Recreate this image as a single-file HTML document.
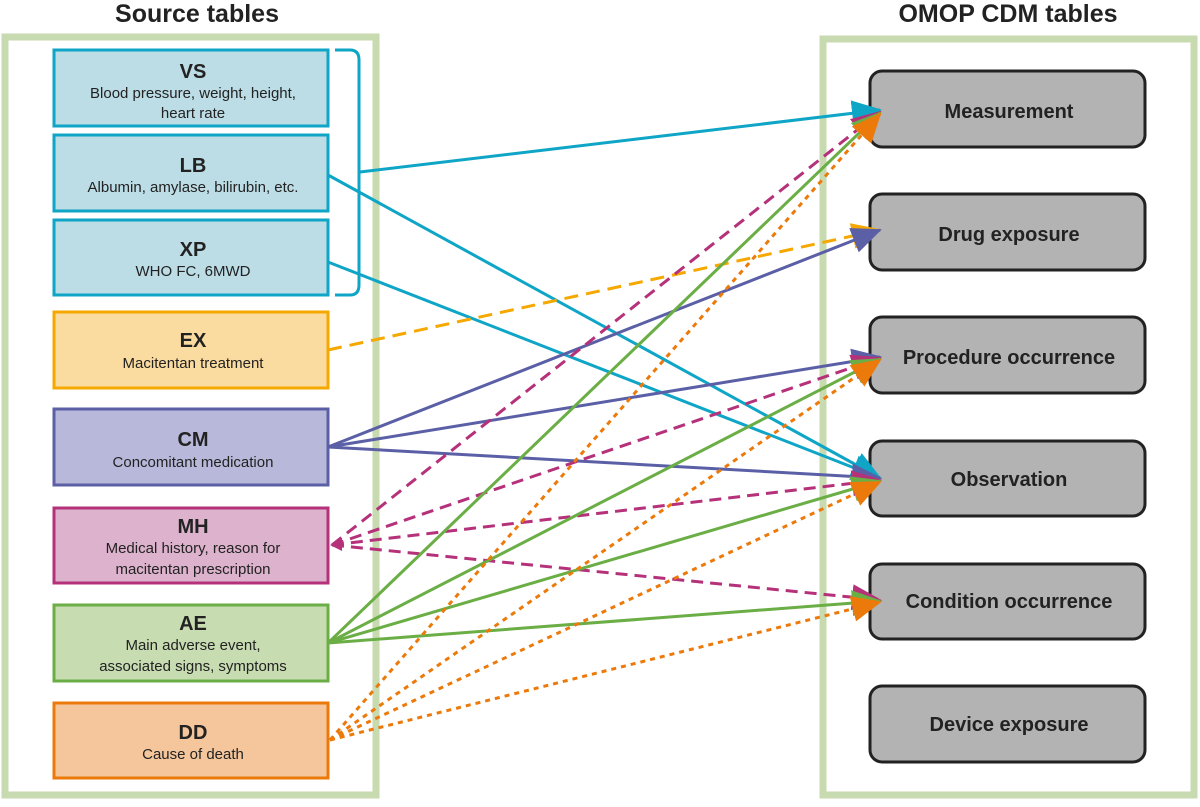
<!DOCTYPE html>
<html><head><style>
body{margin:0;background:#fff;}
svg text{font-family:"Liberation Sans",sans-serif;fill:#222;}
</style></head><body>
<svg width="1200" height="802" viewBox="0 0 1200 802" xmlns="http://www.w3.org/2000/svg">
<defs>
<marker id="mc" markerUnits="userSpaceOnUse" markerWidth="30" markerHeight="26" refX="28" refY="13" orient="auto"><path d="M0,0 L30,13 L0,26 z" fill="#0ea5c6"/></marker>
<marker id="my" markerUnits="userSpaceOnUse" markerWidth="30" markerHeight="26" refX="28" refY="13" orient="auto"><path d="M0,0 L30,13 L0,26 z" fill="#f5a800"/></marker>
<marker id="mp" markerUnits="userSpaceOnUse" markerWidth="30" markerHeight="26" refX="28" refY="13" orient="auto"><path d="M0,0 L30,13 L0,26 z" fill="#5b5fa6"/></marker>
<marker id="mm" markerUnits="userSpaceOnUse" markerWidth="30" markerHeight="26" refX="28" refY="13" orient="auto"><path d="M0,0 L30,13 L0,26 z" fill="#b5317a"/></marker>
<marker id="mg" markerUnits="userSpaceOnUse" markerWidth="30" markerHeight="26" refX="28" refY="13" orient="auto"><path d="M0,0 L30,13 L0,26 z" fill="#6aae45"/></marker>
<marker id="mo" markerUnits="userSpaceOnUse" markerWidth="30" markerHeight="26" refX="28" refY="13" orient="auto"><path d="M0,0 L30,13 L0,26 z" fill="#ec7a0b"/></marker>
</defs>
<text x="197" y="22" font-size="25" font-weight="bold" text-anchor="middle">Source tables</text>
<text x="1008" y="22" font-size="25" font-weight="bold" text-anchor="middle">OMOP CDM tables</text>
<rect x="5" y="37" width="371" height="758" fill="none" stroke="#c8dab0" stroke-width="7"/>
<rect x="823" y="39" width="371" height="756" fill="none" stroke="#c8dab0" stroke-width="7"/>

<g stroke-width="3">
<rect x="54" y="50" width="274" height="76" fill="#bcdce6" stroke="#0ea5c6"/>
<rect x="54" y="135" width="274" height="76" fill="#bcdce6" stroke="#0ea5c6"/>
<rect x="54" y="220" width="274" height="75" fill="#bcdce6" stroke="#0ea5c6"/>
<rect x="54" y="312" width="274" height="76" fill="#fadba0" stroke="#f5a800"/>
<rect x="54" y="409" width="274" height="76" fill="#b8b9da" stroke="#5b5fa6"/>
<rect x="54" y="508" width="274" height="75" fill="#ddb2cd" stroke="#b5317a"/>
<rect x="54" y="605" width="274" height="76" fill="#c8dcb2" stroke="#6aae45"/>
<rect x="54" y="703" width="274" height="75" fill="#f5c69c" stroke="#ec7a0b"/>
</g>
<path d="M335,50 H350 Q359,50 359,60 V285 Q359,295 350,295 H335" fill="none" stroke="#0ea5c6" stroke-width="3"/>

<g text-anchor="middle" font-size="15">
<text x="193" y="78" font-size="20" font-weight="bold">VS</text>
<text x="193" y="98">Blood pressure, weight, height,</text>
<text x="193" y="118">heart rate</text>
<text x="193" y="172" font-size="20" font-weight="bold">LB</text>
<text x="193" y="192">Albumin, amylase, bilirubin, etc.</text>
<text x="193" y="256" font-size="20" font-weight="bold">XP</text>
<text x="193" y="276">WHO FC, 6MWD</text>
<text x="193" y="347" font-size="20" font-weight="bold">EX</text>
<text x="193" y="368">Macitentan treatment</text>
<text x="193" y="446" font-size="20" font-weight="bold">CM</text>
<text x="193" y="467">Concomitant medication</text>
<text x="193" y="533" font-size="20" font-weight="bold">MH</text>
<text x="193" y="553">Medical history, reason for</text>
<text x="193" y="574">macitentan prescription</text>
<text x="193" y="630" font-size="20" font-weight="bold">AE</text>
<text x="193" y="650">Main adverse event,</text>
<text x="193" y="671">associated signs, symptoms</text>
<text x="193" y="739" font-size="20" font-weight="bold">DD</text>
<text x="193" y="759">Cause of death</text>
</g>

<g fill="#b3b3b3" stroke="#222" stroke-width="3">
<rect x="870" y="71" width="275" height="76" rx="12"/>
<rect x="870" y="194" width="275" height="76" rx="12"/>
<rect x="870" y="317" width="275" height="76" rx="12"/>
<rect x="870" y="441" width="275" height="75" rx="12"/>
<rect x="870" y="564" width="275" height="75" rx="12"/>
<rect x="870" y="686" width="275" height="76" rx="12"/>
</g>
<g text-anchor="middle" font-size="20" font-weight="bold">
<text x="1009" y="118">Measurement</text>
<text x="1009" y="241">Drug exposure</text>
<text x="1009" y="364">Procedure occurrence</text>
<text x="1009" y="486">Observation</text>
<text x="1009" y="608">Condition occurrence</text>
<text x="1009" y="731">Device exposure</text>
</g>

<g fill="none" stroke-width="3">
<line x1="360" y1="172" x2="880" y2="110" stroke="#0ea5c6" marker-end="url(#mc)"/>
<line x1="328" y1="175" x2="880" y2="478" stroke="#0ea5c6" marker-end="url(#mc)"/>
<line x1="328" y1="262" x2="880" y2="478" stroke="#0ea5c6" marker-end="url(#mc)"/>
<line x1="328" y1="350" x2="880" y2="230" stroke="#f5a800" stroke-dasharray="14,8" marker-end="url(#my)"/>
<line x1="328" y1="447" x2="880" y2="230" stroke="#5b5fa6" marker-end="url(#mp)"/>
<line x1="328" y1="447" x2="880" y2="357" stroke="#5b5fa6" marker-end="url(#mp)"/>
<line x1="328" y1="447" x2="880" y2="478" stroke="#5b5fa6" marker-end="url(#mp)"/>
<line x1="332" y1="545" x2="880" y2="112" stroke="#b5317a" stroke-dasharray="12,7" marker-end="url(#mm)"/>
<line x1="332" y1="545" x2="880" y2="358" stroke="#b5317a" stroke-dasharray="12,7" marker-end="url(#mm)"/>
<line x1="332" y1="545" x2="880" y2="480" stroke="#b5317a" stroke-dasharray="12,7" marker-end="url(#mm)"/>
<line x1="332" y1="545" x2="880" y2="600" stroke="#b5317a" stroke-dasharray="12,7" marker-end="url(#mm)"/>
<path d="M330,545 L342,539 L342,551 z" fill="#b5317a" stroke="none"/>
<line x1="328" y1="643" x2="880" y2="113" stroke="#6aae45" marker-end="url(#mg)"/>
<line x1="328" y1="643" x2="880" y2="359" stroke="#6aae45" marker-end="url(#mg)"/>
<line x1="328" y1="643" x2="880" y2="481" stroke="#6aae45" marker-end="url(#mg)"/>
<line x1="328" y1="643" x2="880" y2="601" stroke="#6aae45" marker-end="url(#mg)"/>
<line x1="330" y1="740" x2="880" y2="114" stroke="#ec7a0b" stroke-dasharray="5,5" marker-end="url(#mo)"/>
<line x1="330" y1="740" x2="880" y2="360" stroke="#ec7a0b" stroke-dasharray="5,5" marker-end="url(#mo)"/>
<line x1="330" y1="740" x2="880" y2="482" stroke="#ec7a0b" stroke-dasharray="5,5" marker-end="url(#mo)"/>
<line x1="330" y1="740" x2="880" y2="602" stroke="#ec7a0b" stroke-dasharray="5,5" marker-end="url(#mo)"/>
</g>
</svg>
</body></html>
